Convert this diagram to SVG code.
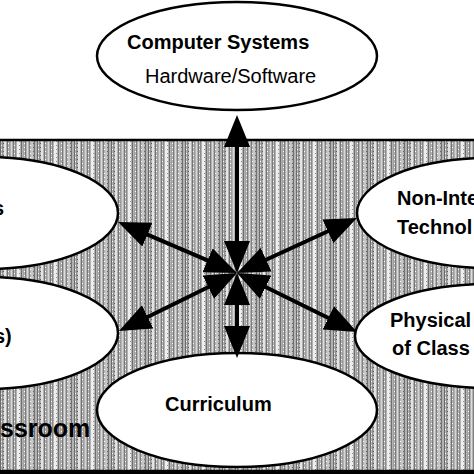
<svg xmlns="http://www.w3.org/2000/svg" width="474" height="474" viewBox="0 0 474 474">
  <defs>
    <pattern id="shade" patternUnits="userSpaceOnUse" width="37" height="4">
      <rect width="37" height="4" fill="#b2b2b2"/>
      <rect x="0" width="1" height="4" fill="#6c6c6c"/>
      <rect x="2" width="1" height="4" fill="#8e8e8e"/>
      <rect x="4" width="2" height="4" fill="#e4e4e4"/>
      <rect x="7" width="1" height="4" fill="#747474"/>
      <rect x="9" width="1" height="4" fill="#9c9c9c"/>
      <rect x="11" width="1" height="4" fill="#d6d6d6"/>
      <rect x="13" width="1" height="4" fill="#7a7a7a"/>
      <rect x="15" width="1" height="4" fill="#8a8a8a"/>
      <rect x="17" width="3" height="4" fill="#eeeeee"/>
      <rect x="21" width="1" height="4" fill="#6e6e6e"/>
      <rect x="23" width="1" height="4" fill="#a0a0a0"/>
      <rect x="25" width="1" height="4" fill="#7c7c7c"/>
      <rect x="27" width="1" height="4" fill="#dcdcdc"/>
      <rect x="29" width="1" height="4" fill="#808080"/>
      <rect x="31" width="2" height="4" fill="#c8c8c8"/>
      <rect x="34" width="1" height="4" fill="#727272"/>
      <rect x="1" y="1" width="1" height="1" fill="#ffffff"/>
      <rect x="8" y="3" width="1" height="1" fill="#ffffff"/>
      <rect x="14" y="1" width="1" height="1" fill="#ffffff"/>
      <rect x="24" y="3" width="1" height="1" fill="#ffffff"/>
      <rect x="30" y="1" width="1" height="1" fill="#ffffff"/>
      <rect x="3" y="3" width="1" height="1" fill="#5a5a5a"/>
      <rect x="19" y="1" width="1" height="1" fill="#8a8a8a"/>
      <rect x="33" y="3" width="1" height="1" fill="#6a6a6a"/>
    </pattern>
    <marker id="head" markerUnits="userSpaceOnUse" markerWidth="32" markerHeight="26" refX="12" refY="13" orient="auto-start-reverse" viewBox="0 0 32 26">
      <path d="M0,0 L32,13 L0,26 z" fill="#000"/>
    </marker>
  </defs>
  <style>
    .node { fill: #ffffff; stroke: #000000; stroke-width: 2.5; }
    .lbl { font-family: "Liberation Sans", Arial, sans-serif; font-size: 20px; fill: #000; }
    .b { font-weight: bold; }
    .conn { stroke: #000; stroke-width: 4; fill: none; marker-start: url(#head); marker-end: url(#head); }
  </style>

  <g id="classroom">
    <rect x="-5" y="140" width="484" height="331" fill="url(#shade)" stroke="#000" stroke-width="2.5"/>
    <rect x="0" y="470" width="474" height="4" fill="#000"/>
    <text class="lbl b" x="0" y="437" style="font-size:25px">ssroom</text>
  </g>

  <g id="computer-systems">
    <ellipse class="node" cx="237" cy="56" rx="140" ry="54"/>
    <text class="lbl b" x="127" y="49">Computer Systems</text>
    <text class="lbl" x="145" y="83">Hardware/Software</text>
  </g>

  <g id="upper-left">
    <ellipse class="node" cx="-15" cy="213" rx="133" ry="56"/>
    <text class="lbl b" x="-7" y="215">s</text>
  </g>

  <g id="lower-left">
    <ellipse class="node" cx="-15" cy="333" rx="133" ry="56"/>
    <text class="lbl b" x="-6" y="343">s)</text>
  </g>

  <g id="non-interactive">
    <ellipse class="node" cx="490" cy="213" rx="133" ry="55"/>
    <text class="lbl b" x="397" y="205">Non-Inte</text>
    <text class="lbl b" x="397" y="234">Technol</text>
  </g>

  <g id="physical">
    <ellipse class="node" cx="490" cy="336" rx="135" ry="52"/>
    <text class="lbl b" x="390" y="327">Physical</text>
    <text class="lbl b" x="392" y="355">of Class</text>
  </g>

  <g id="curriculum">
    <ellipse class="node" cx="237" cy="410" rx="140" ry="57"/>
    <text class="lbl b" x="165" y="411">Curriculum</text>
  </g>

  <g id="connectors">
    <path class="conn" d="M237,253 L237,135"/>
    <path class="conn" d="M237,293 L237,338"/>
    <path class="conn" d="M218.6,265.1 L136.4,229.9"/>
    <path class="conn" d="M255.2,264.7 L338.8,226.3"/>
    <path class="conn" d="M219.1,281.8 L136.9,322.2"/>
    <path class="conn" d="M254.9,281.8 L339.1,323.2"/>
  </g>
</svg>
